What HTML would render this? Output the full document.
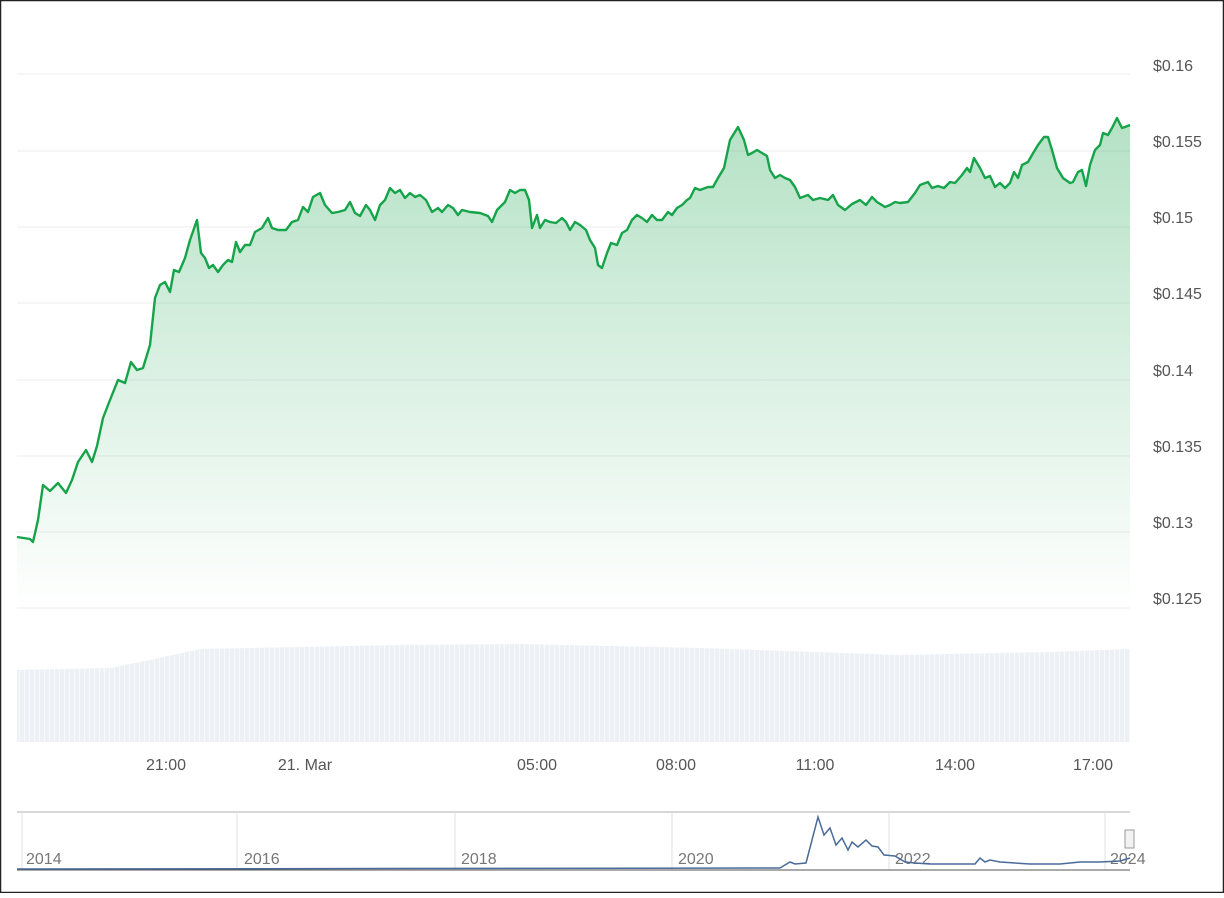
<!DOCTYPE html>
<html><head><style>
html,body{margin:0;padding:0;background:#fff;}
body{width:1224px;height:893px;overflow:hidden;}
svg text{font-family:"Liberation Sans",sans-serif;}
</style></head><body>
<svg width="1224" height="893" viewBox="0 0 1224 893" xmlns="http://www.w3.org/2000/svg">
<defs>
<linearGradient id="g" x1="0" y1="0" x2="0" y2="1">
<stop offset="0" stop-color="#16a34a" stop-opacity="0.32"/>
<stop offset="1" stop-color="#16a34a" stop-opacity="0.0"/>
</linearGradient>
<pattern id="vb" width="5" height="10" patternUnits="userSpaceOnUse">
<rect width="4" height="10" fill="#edf1f5"/><rect x="4" width="1" height="10" fill="#f8f9fb"/>
</pattern>
</defs>
<rect x="0.5" y="0.5" width="1223" height="892" fill="#fff" stroke="#222" stroke-width="1.5"/>
<g stroke="#eceef1" stroke-width="1">
<line x1="17" x2="1130" y1="74" y2="74"/><line x1="17" x2="1130" y1="151" y2="151"/>
<line x1="17" x2="1130" y1="227" y2="227"/><line x1="17" x2="1130" y1="303" y2="303"/>
<line x1="17" x2="1130" y1="380" y2="380"/><line x1="17" x2="1130" y1="456" y2="456"/>
<line x1="17" x2="1130" y1="532" y2="532"/><line x1="17" x2="1130" y1="608" y2="608"/>
</g>
<g font-size="16" fill="#555">
<text x="1153" y="71">$0.16</text><text x="1153" y="147">$0.155</text>
<text x="1153" y="223">$0.15</text><text x="1153" y="299">$0.145</text>
<text x="1153" y="376">$0.14</text><text x="1153" y="452">$0.135</text>
<text x="1153" y="528">$0.13</text><text x="1153" y="604">$0.125</text>
</g>
<polygon fill="url(#vb)" points="17,670 110,668 150,660 200,649 400,645 520,644 700,648 900,655 1050,652 1130,649 1130,742 17,742"/>
<path fill="url(#g)" d="M17,537 L30,539 33,542 38,520 43,485 50,491 58,483 66,493 72,480 78,462 86,450 92,462 97,446 103,418 110,400 118,380 125,383 131,362 137,370 143,368 150,345 155,298 160,285 165,282 170,292 174,270 179,272 185,258 190,240 197,220 201,253 205,258 209,268 213,265 218,272 223,265 228,260 232,262 236,242 240,252 245,245 250,245 255,232 262,228 268,218 272,228 278,230 286,230 292,222 298,220 303,207 308,212 313,197 320,193 325,205 332,213 338,212 345,210 350,202 355,213 360,216 366,205 370,210 375,220 380,205 385,200 390,188 395,193 400,190 405,198 410,193 415,197 420,195 426,200 432,212 438,208 442,212 448,205 453,208 458,215 462,210 470,212 480,213 488,216 492,222 497,210 505,202 510,190 515,193 520,190 525,190 529,200 532,228 537,215 540,228 545,220 550,222 556,223 562,218 566,222 570,230 575,222 580,225 586,230 590,240 595,248 598,265 602,268 607,253 611,243 617,245 622,233 627,230 632,220 637,215 642,218 647,222 652,215 657,220 662,220 668,212 672,215 677,208 682,205 687,200 690,198 695,188 700,190 708,187 713,187 718,178 724,168 730,140 738,127 744,140 748,155 752,153 757,150 762,153 767,156 770,170 775,178 780,175 785,178 790,180 795,187 800,198 808,195 813,200 820,198 828,200 833,195 838,205 845,210 852,204 860,200 866,205 872,197 877,202 885,207 890,205 895,202 900,203 908,202 915,193 920,185 928,182 932,188 938,186 944,188 950,182 955,183 962,175 967,168 970,172 974,158 980,168 985,178 990,176 995,187 1000,183 1005,188 1010,183 1014,172 1018,178 1022,165 1028,162 1032,155 1038,145 1044,137 1048,137 1052,150 1057,168 1063,178 1070,183 1073,182 1078,172 1082,170 1086,186 1090,165 1095,150 1100,145 1103,133 1108,135 1112,128 1117,118 1122,128 1125,127 1130,125 L1130,610 L17,610 Z"/>
<polyline fill="none" stroke="#16a34a" stroke-width="2.4" stroke-linejoin="round" points="17,537 30,539 33,542 38,520 43,485 50,491 58,483 66,493 72,480 78,462 86,450 92,462 97,446 103,418 110,400 118,380 125,383 131,362 137,370 143,368 150,345 155,298 160,285 165,282 170,292 174,270 179,272 185,258 190,240 197,220 201,253 205,258 209,268 213,265 218,272 223,265 228,260 232,262 236,242 240,252 245,245 250,245 255,232 262,228 268,218 272,228 278,230 286,230 292,222 298,220 303,207 308,212 313,197 320,193 325,205 332,213 338,212 345,210 350,202 355,213 360,216 366,205 370,210 375,220 380,205 385,200 390,188 395,193 400,190 405,198 410,193 415,197 420,195 426,200 432,212 438,208 442,212 448,205 453,208 458,215 462,210 470,212 480,213 488,216 492,222 497,210 505,202 510,190 515,193 520,190 525,190 529,200 532,228 537,215 540,228 545,220 550,222 556,223 562,218 566,222 570,230 575,222 580,225 586,230 590,240 595,248 598,265 602,268 607,253 611,243 617,245 622,233 627,230 632,220 637,215 642,218 647,222 652,215 657,220 662,220 668,212 672,215 677,208 682,205 687,200 690,198 695,188 700,190 708,187 713,187 718,178 724,168 730,140 738,127 744,140 748,155 752,153 757,150 762,153 767,156 770,170 775,178 780,175 785,178 790,180 795,187 800,198 808,195 813,200 820,198 828,200 833,195 838,205 845,210 852,204 860,200 866,205 872,197 877,202 885,207 890,205 895,202 900,203 908,202 915,193 920,185 928,182 932,188 938,186 944,188 950,182 955,183 962,175 967,168 970,172 974,158 980,168 985,178 990,176 995,187 1000,183 1005,188 1010,183 1014,172 1018,178 1022,165 1028,162 1032,155 1038,145 1044,137 1048,137 1052,150 1057,168 1063,178 1070,183 1073,182 1078,172 1082,170 1086,186 1090,165 1095,150 1100,145 1103,133 1108,135 1112,128 1117,118 1122,128 1125,127 1130,125"/>
<g font-size="16" fill="#555" text-anchor="middle">
<text x="166" y="770">21:00</text><text x="305" y="770">21. Mar</text>
<text x="537" y="770">05:00</text><text x="676" y="770">08:00</text>
<text x="815" y="770">11:00</text><text x="955" y="770">14:00</text>
<text x="1093" y="770">17:00</text>
</g>
<line x1="17" x2="1130" y1="812" y2="812" stroke="#ccc" stroke-width="1.5"/>
<g stroke="#e2e2e2"><line x1="22" x2="22" y1="813" y2="870"/><line x1="237" x2="237" y1="813" y2="870"/><line x1="455" x2="455" y1="813" y2="870"/><line x1="672" x2="672" y1="813" y2="870"/><line x1="889" x2="889" y1="813" y2="870"/><line x1="1105" x2="1105" y1="813" y2="870"/></g>
<g font-size="16" fill="#777">
<text x="26" y="864">2014</text><text x="244" y="864">2016</text><text x="461" y="864">2018</text>
<text x="678" y="864">2020</text><text x="895" y="864">2022</text><text x="1110" y="864">2024</text>
</g>
<line x1="17" x2="1130" y1="870" y2="870" stroke="#555" stroke-width="1"/>
<polyline fill="none" stroke="#4a6a9a" stroke-width="1.5" points="17,869 780,868 790,862 795,864 806,863 812,840 818,817 824,835 830,828 836,845 842,838 848,850 852,842 858,847 866,840 872,846 878,847 884,855 895,856 905,862 915,863 930,864 960,864 975,864 980,858 985,862 990,860 1000,862 1030,864 1060,864 1080,862 1100,862 1120,861 1130,858"/>
<rect x="1125" y="830" width="9" height="18" fill="#f2f2f2" stroke="#999"/>
</svg>
</body></html>
